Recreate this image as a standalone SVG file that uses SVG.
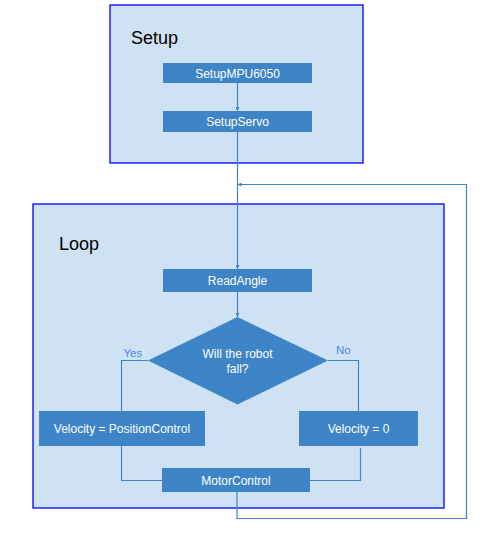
<svg xmlns="http://www.w3.org/2000/svg" width="494" height="544" viewBox="0 0 494 544">
<style>
.frame{fill:#cfe2f3;stroke:#0000ff;stroke-width:1.3}
.title{font-family:"Liberation Sans",Arial,sans-serif;font-size:18px;fill:#000}
.box{fill:#3d85c6}
.lbl{font-family:"Liberation Sans",Arial,sans-serif;font-size:12px;fill:#fff;text-anchor:middle}
.edge{fill:none;stroke:#3d85c6;stroke-width:1.2}
.elbl{font-family:"Liberation Sans",Arial,sans-serif;font-size:11.5px;fill:#4a86e8}
</style>
<defs>
<marker id="ah" viewBox="0 0 10 10" refX="10" refY="5" markerWidth="4" markerHeight="4" orient="auto" markerUnits="userSpaceOnUse">
<path d="M0,0 L10,5 L0,10 z" fill="#3d85c6"/>
</marker>
</defs>
<rect width="494" height="544" fill="#fff"/>
<g id="setup">
<rect class="frame" x="110" y="5" width="253" height="158"/>
<text class="title" x="131" y="44">Setup</text>
</g>
<g id="loop">
<rect class="frame" x="33" y="204" width="411" height="304"/>
<text class="title" x="59" y="250">Loop</text>
</g>
<g id="connectors">
<path class="edge" d="M237.5,83 V111" marker-end="url(#ah)"/>
<path class="edge" d="M237.5,132 V269" marker-end="url(#ah)"/>
<path class="edge" d="M237.5,292 V317" marker-end="url(#ah)"/>
<path class="edge" d="M148,360.5 H121.5 V411"/>
<path class="edge" d="M328,360.5 H358.5 V411"/>
<path class="edge" d="M121.5,446 V480.5 H162"/>
<path class="edge" d="M360.5,448 V480.5 H310"/>
<path class="edge" d="M237,492 V518.5 H466.5 V184.5 H237.5" marker-end="url(#ah)"/>
<text class="elbl" x="123.5" y="357">Yes</text>
<text class="elbl" x="336" y="354">No</text>
</g>
<g id="SetupMPU6050">
<rect class="box" x="163" y="63" width="149" height="20"/>
<text class="lbl" x="237.5" y="77.5">SetupMPU6050</text>
</g>
<g id="SetupServo">
<rect class="box" x="163" y="111" width="149" height="21"/>
<text class="lbl" x="237.5" y="126">SetupServo</text>
</g>
<g id="ReadAngle">
<rect class="box" x="163" y="269" width="149" height="23"/>
<text class="lbl" x="237.5" y="285">ReadAngle</text>
</g>
<g id="decision">
<polygon class="box" points="237.5,317 328,360.5 237.5,404.5 148,360.5"/>
<text class="lbl" x="237.5" y="358">Will the robot</text>
<text class="lbl" x="237.5" y="372.5">fall?</text>
</g>
<g id="VelocityPosition">
<rect class="box" x="39" y="411" width="166" height="35"/>
<text class="lbl" x="122" y="432.5">Velocity = PositionControl</text>
</g>
<g id="VelocityZero">
<rect class="box" x="299" y="411" width="119" height="35"/>
<text class="lbl" x="358.5" y="432.5">Velocity = 0</text>
</g>
<g id="MotorControl">
<rect class="box" x="162" y="468" width="148" height="24"/>
<text class="lbl" x="236" y="485">MotorControl</text>
</g>
</svg>
